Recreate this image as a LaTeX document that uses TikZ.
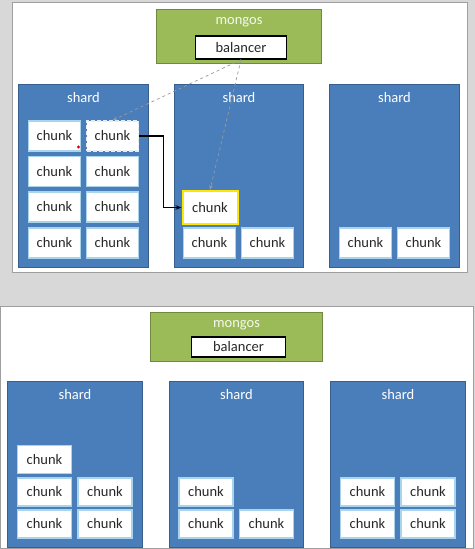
\documentclass[tikz,border=0pt]{standalone}
\usepackage{fontspec}
\setmainfont{Carlito}
\usetikzlibrary{arrows.meta,positioning,calc}
\definecolor{shardblue}{RGB}{74,126,187}
\definecolor{chunkline}{RGB}{168,212,236}
\definecolor{mongosgreen}{RGB}{155,187,89}
\definecolor{mongosline}{RGB}{113,137,63}
\definecolor{bggray}{RGB}{216,216,216}
\definecolor{inktext}{RGB}{40,40,40}
\tikzset{
  panel/.style={fill=white, draw=gray!75, line width=1pt},
  shardbox/.style={fill=shardblue, draw=shardblue!75!black, line width=0.8pt,
    label={[font=\fontsize{14.5}{16}\selectfont, text=white, anchor=north, yshift=-5pt]north:shard}},
  mongosbox/.style={fill=mongosgreen, draw=mongosline, line width=0.8pt,
    label={[font=\fontsize{14.5}{16}\selectfont, text=white!90!mongosgreen, anchor=north, yshift=-5.5pt]north:mongos}},
  balancerbox/.style={fill=white, draw=black, line width=1.4pt, inner sep=0pt,
    text=inktext, font=\fontsize{14.5}{16}\selectfont},
  chunk/.style={fill=white, draw=chunkline, line width=1.2pt, inner sep=0pt,
    text=inktext, font=\fontsize{14.5}{16}\selectfont},
  moving/.style={draw=white!85!shardblue, dashed, dash pattern=on 4pt off 2pt},
  target/.style={draw=yellow!90!orange, line width=2pt},
  balarrow/.style={draw=gray!80, dashed, line width=0.7pt, -{Stealth[length=5pt]}},
  movearrow/.style={draw=black, line width=1.1pt, -{Stealth[length=6pt]}}
}
\begin{document}
\begin{tikzpicture}[x=1pt,y=-1pt]
\fill[bggray] (0,0) rectangle (474,549);
\draw[panel] (12,2) rectangle (467,272);
\draw[panel] (0,306) rectangle (473,548);

\node[mongosbox, minimum width=165, minimum height=54] (mg1) at (238.5,36) {};
\node[balancerbox, minimum width=91, minimum height=23] (bal1) at (240.5,47.5) {balancer};

\begin{scope}[shardbox/.append style={minimum width=130, minimum height=183},
              chunk/.append style={minimum width=52, minimum height=30}]
\node[shardbox] (s1) at (83,175.5) {};
\node[shardbox, minimum width=129] (s2) at (238.5,175.5) {};
\node[shardbox] (s3) at (394,175.5) {};
\node[chunk] (a11) at (54,136) {chunk};
\node[chunk, moving] (a12) at (112,136) {chunk};
\foreach \r/\y in {2/171.5,3/207,4/243}
  \foreach \c/\x in {1/54,2/112}
    \node[chunk] (a\r\c) at (\x,\y) {chunk};
\node[chunk, target, minimum width=55, minimum height=33] (mv) at (209.5,207.5) {chunk};
\node[chunk] (b1) at (209,243) {chunk};
\node[chunk] (b2) at (267,243) {chunk};
\node[chunk] (c1) at (365,243) {chunk};
\node[chunk] (c2) at (423,243) {chunk};
\end{scope}
\fill[red!85!black] (78,147) circle (1.6);

\draw[balarrow] (bal1.south) -- (a12.north);
\draw[balarrow] (bal1.south) -- (mv.north);
\draw[movearrow] (a12.east) -- ++(24,0) |- (mv.west);

\node[mongosbox, minimum width=172, minimum height=49] (mg2) at (236,336.5) {};
\node[balancerbox, minimum width=94, minimum height=20] (bal2) at (238,347) {balancer};

\begin{scope}[shardbox/.append style={minimum width=135, minimum height=166},
              chunk/.append style={minimum width=54, minimum height=28}]
\node[shardbox] (t1) at (74.5,464) {};
\node[shardbox, minimum width=134] (t2) at (236,464) {};
\node[shardbox] (t3) at (397.5,464) {};
\node[chunk] (d0) at (44,459.5) {chunk};
\foreach \r/\y in {1/492,2/524}
  \foreach \c/\x in {1/44,2/104.5}
    \node[chunk] (d\r\c) at (\x,\y) {chunk};
\node[chunk] (e0) at (205.5,492) {chunk};
\node[chunk] (e1) at (205.5,524) {chunk};
\node[chunk] (e2) at (266,524) {chunk};
\foreach \r/\y in {1/492,2/524}
  \foreach \c/\x in {1/367,2/427.5}
    \node[chunk] (f\r\c) at (\x,\y) {chunk};
\end{scope}
\end{tikzpicture}
\end{document}
